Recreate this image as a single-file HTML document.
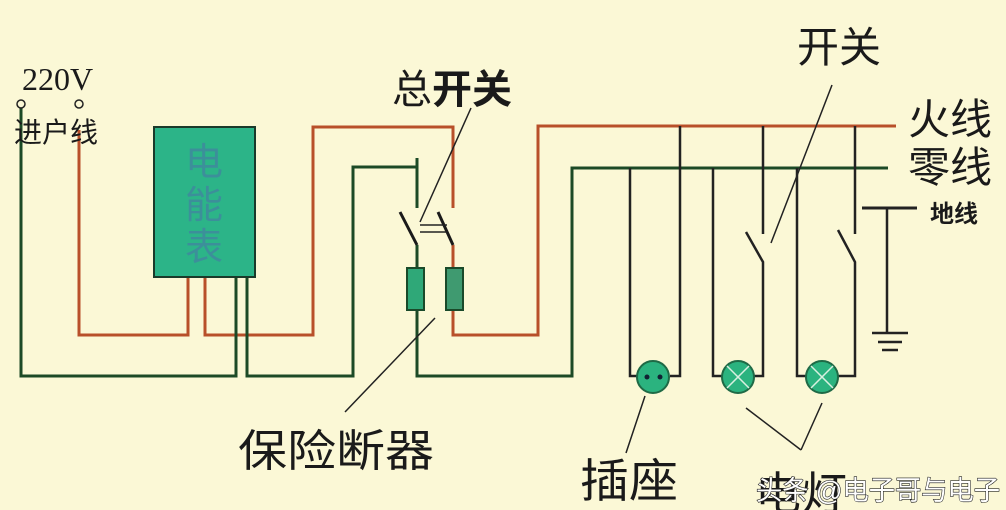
<!DOCTYPE html>
<html><head><meta charset="utf-8"><style>
html,body{margin:0;padding:0;background:#fbf8d6;}
svg{display:block}
text{font-family:"Liberation Sans","Noto Sans CJK SC",sans-serif;}
text.serif{font-family:"Liberation Serif",serif;}
</style></head><body>
<svg width="1006" height="510" viewBox="0 0 1006 510" xmlns="http://www.w3.org/2000/svg">
<rect width="1006" height="510" fill="#fbf8d6"/>
<g fill="none" stroke-width="3" stroke-linejoin="miter">
<polyline stroke="#b8502a" points="79,130 79,335 188,335 188,277"/>
<polyline stroke="#b8502a" points="205,277 205,335 313,335 313,127 453,127 453,158"/>
<polyline stroke="#b8502a" points="453,245 453,335 538,335 538,126 896,126"/>
<polyline stroke="#1c4a26" points="21,100 21,376 236,376 236,277"/>
<polyline stroke="#1c4a26" points="247,277 247,376 353,376 353,167 417,167 417,158"/>
<polyline stroke="#1c4a26" points="417,245 417,376 572,376 572,168 888,168"/>
</g>
<g stroke="#1a1a1a" stroke-width="3" fill="none">
<line x1="400" y1="212" x2="417" y2="245"/>
<line x1="438" y1="212" x2="453" y2="245"/>
<line x1="417" y1="158" x2="417" y2="208" stroke="#1c4a26"/>
<line x1="453" y1="158" x2="453" y2="208" stroke="#b8502a"/>
</g>
<line x1="420" y1="225" x2="447" y2="225" stroke="#222" stroke-width="1.5"/>
<line x1="420" y1="232" x2="447" y2="232" stroke="#222" stroke-width="1.5"/>
<rect x="407" y="268" width="17" height="42" fill="#2fa878" stroke="#1a4a2a" stroke-width="2"/>
<rect x="446" y="268" width="17" height="42" fill="#3f9a70" stroke="#1a4a2a" stroke-width="2"/>
<rect x="154" y="127" width="101" height="150" fill="#2cb488" stroke="#1a3a2a" stroke-width="2"/>
<text x="204" y="175" font-size="38" fill="#3c8f9a" text-anchor="middle">电</text>
<text x="204" y="218" font-size="38" fill="#3c8f9a" text-anchor="middle">能</text>
<text x="204" y="260" font-size="38" fill="#3c8f9a" text-anchor="middle">表</text>
<g stroke="#222" stroke-width="2.5" fill="none">
<polyline points="630,168 630,376 640,376"/>
<polyline points="680,126 680,376 670,376"/>
<polyline points="713,168 713,376 722,376"/>
<polyline points="763,126 763,234"/>
<polyline points="746,232 763,262 763,376 754,376"/>
<polyline points="797,168 797,376 806,376"/>
<polyline points="855,126 855,234"/>
<polyline points="838,230 855,262 855,376 838,376"/>
<line x1="862" y1="208" x2="917" y2="208" stroke-width="3"/>
<line x1="887" y1="208" x2="887" y2="333"/>
<line x1="872" y1="333" x2="908" y2="333"/>
<line x1="878" y1="342" x2="902" y2="342"/>
<line x1="882" y1="350" x2="898" y2="350"/>
</g>
<g stroke="#1f6a46" stroke-width="2" fill="#2bb37f">
<circle cx="653" cy="377" r="16"/>
<circle cx="738" cy="377" r="16"/>
<circle cx="822" cy="377" r="16"/>
</g>
<circle cx="647" cy="377" r="2.5" fill="#123"/><circle cx="660" cy="377" r="2.5" fill="#123"/>
<g stroke="#d8f0e0" stroke-width="1.5">
<line x1="727" y1="366" x2="749" y2="388"/><line x1="749" y1="366" x2="727" y2="388"/>
<line x1="811" y1="366" x2="833" y2="388"/><line x1="833" y1="366" x2="811" y2="388"/>
</g>
<circle cx="21" cy="104" r="4" fill="#fbf8d6" stroke="#222" stroke-width="1.5"/>
<circle cx="79" cy="104" r="4" fill="#fbf8d6" stroke="#222" stroke-width="1.5"/>
<g stroke="#222" stroke-width="1.5">
<line x1="471" y1="108" x2="420" y2="222"/>
<line x1="832" y1="85" x2="771" y2="243"/>
<line x1="435" y1="318" x2="345" y2="412"/>
<line x1="645" y1="396" x2="626" y2="453"/>
<line x1="746" y1="408" x2="801" y2="450"/>
<line x1="822" y1="403" x2="801" y2="450"/>
</g>
<g fill="#1a1a1a">
<text class="serif" x="22" y="90" font-size="32">220V</text>
<text x="14" y="142" font-size="28">进户线</text>
<text x="392" y="103" font-size="40">总<tspan font-weight="bold">开关</tspan></text>
<text x="797" y="62" font-size="42">开关</text>
<text x="908" y="134" font-size="42">火线</text>
<text x="908" y="182" font-size="42">零线</text>
<text x="930" y="222" font-size="24" font-weight="bold">地线</text>
<text x="238" y="466" font-size="44" textLength="196" lengthAdjust="spacingAndGlyphs">保险断器</text>
<text x="580" y="497" font-size="46" textLength="98" lengthAdjust="spacingAndGlyphs">插座</text>
<text x="755" y="510" font-size="46">电灯</text>
<text x="756" y="500" font-size="27" fill="#fff" stroke="#222" stroke-width="1.2" paint-order="stroke" textLength="244" lengthAdjust="spacingAndGlyphs">头条 @电子哥与电子</text>
</g>
</svg>
</body></html>
